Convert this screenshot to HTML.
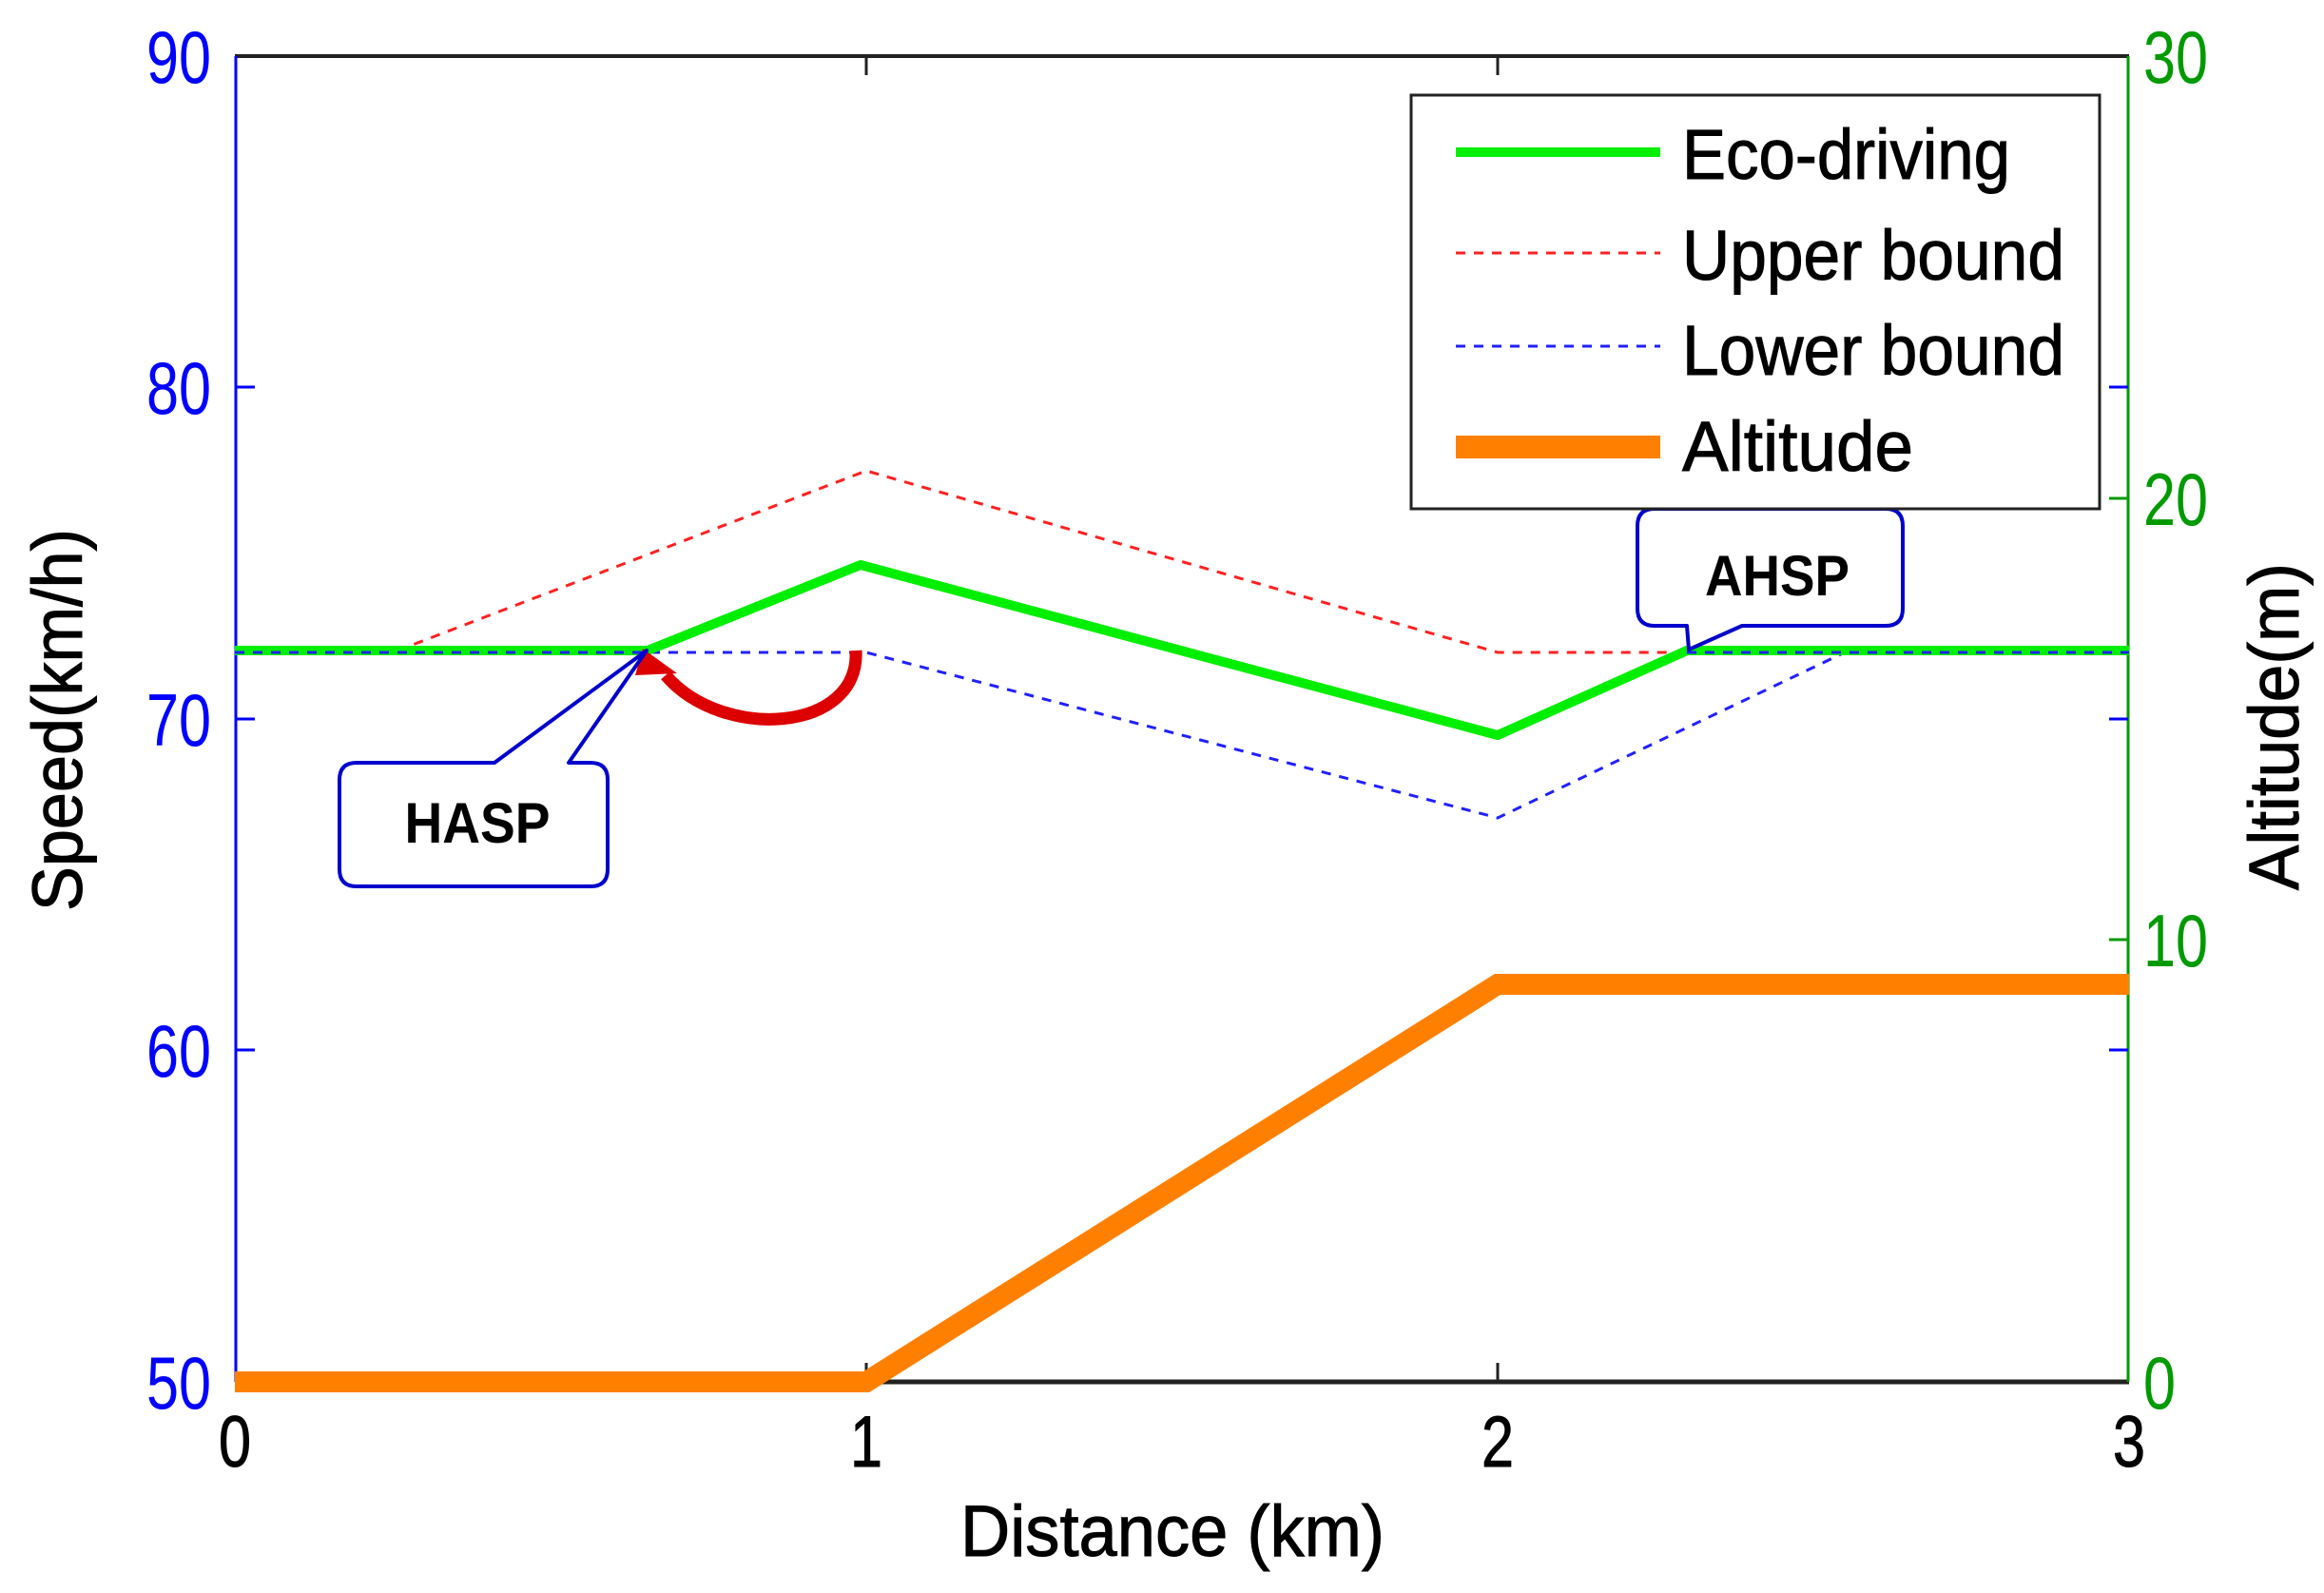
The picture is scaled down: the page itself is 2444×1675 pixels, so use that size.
<!DOCTYPE html>
<html><head><meta charset="utf-8"><style>html,body{margin:0;padding:0;background:#fff}svg{display:block}</style></head>
<body>
<svg width="2444" height="1675" viewBox="0 0 2444 1675" xmlns="http://www.w3.org/2000/svg" font-family="Liberation Sans, Arial, sans-serif">
<rect width="2444" height="1675" fill="#fff"/>
<line x1="247" y1="59" x2="2239" y2="59" stroke="#222" stroke-width="4"/>
<line x1="247" y1="1453" x2="2239" y2="1453" stroke="#222" stroke-width="5"/>
<line x1="248" y1="59" x2="248" y2="1453" stroke="#0000ff" stroke-width="3"/>
<line x1="2238" y1="59" x2="2238" y2="1453" stroke="#009a00" stroke-width="3"/>
<g stroke="#222" stroke-width="3">
<line x1="911" y1="59" x2="911" y2="79"/><line x1="1575" y1="59" x2="1575" y2="79"/>
<line x1="911" y1="1453" x2="911" y2="1433"/><line x1="1575" y1="1453" x2="1575" y2="1433"/>
</g>
<g stroke="#0000ff" stroke-width="3">
<line x1="248" y1="407" x2="268" y2="407"/><line x1="248" y1="756" x2="268" y2="756"/><line x1="248" y1="1104" x2="268" y2="1104"/>
<line x1="2238" y1="407" x2="2218" y2="407"/><line x1="2238" y1="756" x2="2218" y2="756"/><line x1="2238" y1="1104" x2="2218" y2="1104"/>
</g>
<g stroke="#009a00" stroke-width="3">
<line x1="2238" y1="524" x2="2218" y2="524"/><line x1="2238" y1="988" x2="2218" y2="988"/>
</g>
<g font-size="78" fill="#0000ff" text-anchor="end">
<text x="222" y="87" textLength="68" lengthAdjust="spacingAndGlyphs">90</text>
<text x="222" y="435" textLength="68" lengthAdjust="spacingAndGlyphs">80</text>
<text x="222" y="784" textLength="68" lengthAdjust="spacingAndGlyphs">70</text>
<text x="222" y="1132" textLength="68" lengthAdjust="spacingAndGlyphs">60</text>
<text x="222" y="1481" textLength="68" lengthAdjust="spacingAndGlyphs">50</text>
</g>
<g font-size="78" fill="#009a00">
<text x="2254" y="87" textLength="68" lengthAdjust="spacingAndGlyphs">30</text>
<text x="2254" y="552" textLength="68" lengthAdjust="spacingAndGlyphs">20</text>
<text x="2254" y="1016" textLength="68" lengthAdjust="spacingAndGlyphs">10</text>
<text x="2254" y="1481" textLength="34" lengthAdjust="spacingAndGlyphs">0</text>
</g>
<g font-size="76" fill="#000" text-anchor="middle" stroke="#000" stroke-width="1">
<text x="247" y="1542" textLength="34" lengthAdjust="spacingAndGlyphs">0</text><text x="911" y="1542" textLength="34" lengthAdjust="spacingAndGlyphs">1</text><text x="1575" y="1542" textLength="34" lengthAdjust="spacingAndGlyphs">2</text><text x="2239" y="1542" textLength="34" lengthAdjust="spacingAndGlyphs">3</text>
<text x="1233" y="1636" textLength="446" lengthAdjust="spacingAndGlyphs">Distance (km)</text>
</g>
<text transform="translate(86,757) rotate(-90)" font-size="74" text-anchor="middle" textLength="402" lengthAdjust="spacingAndGlyphs" stroke="#000" stroke-width="1">Speed(km/h)</text>
<text transform="translate(2417,764) rotate(-90)" font-size="74" text-anchor="middle" textLength="344" lengthAdjust="spacingAndGlyphs" stroke="#000" stroke-width="1">Altitude(m)</text>
<polyline points="247,1453 911,1453 1575,1035 2239,1035" fill="none" stroke="#ff8000" stroke-width="22" stroke-linejoin="miter"/>
<polyline points="247,686 413,686 911,495 1575,686 2239,686" fill="none" stroke="#ff2020" stroke-width="3" stroke-dasharray="10,9"/>
<polyline points="247,686 911,686 1575,860 1940,686 2239,686" fill="none" stroke="#2020ff" stroke-width="3" stroke-dasharray="10,9"/>
<polyline points="247,684 681,684 905,594 1575,773 1774,684 2239,684" fill="none" stroke="#00ee00" stroke-width="10" stroke-linejoin="round"/>
<polyline points="247,686 681,686" fill="none" stroke="#2020ff" stroke-width="3" stroke-dasharray="10,9"/>
<line x1="1774" y1="686" x2="2239" y2="686" stroke="#2020ff" stroke-width="3" stroke-dasharray="10,9"/>
<path d="M900,684 C905,770 760,780 700,710" fill="none" stroke="#dd0000" stroke-width="13"/>
<polygon points="676,682 668,710 712,708" fill="#dd0000"/>
<path d="M375,802 L520,802 L680,684 L598,802 L621,802 Q639,802 639,820 L639,914 Q639,932 621,932 L375,932 Q357,932 357,914 L357,820 Q357,802 375,802 Z" fill="#fff" stroke="#0000cc" stroke-width="4" stroke-linejoin="round"/>
<text x="502" y="886" font-size="60" font-weight="bold" text-anchor="middle" textLength="153" lengthAdjust="spacingAndGlyphs">HASP</text>
<path d="M1740,535 L1983,535 Q2001,535 2001,553 L2001,640 Q2001,658 1983,658 L1832,658 L1776,683 L1774,658 L1740,658 Q1722,658 1722,640 L1722,553 Q1722,535 1740,535 Z" fill="#fff" stroke="#0000cc" stroke-width="4" stroke-linejoin="round"/>
<text x="1869" y="626" font-size="60" font-weight="bold" text-anchor="middle" textLength="152" lengthAdjust="spacingAndGlyphs">AHSP</text>
<rect x="1484" y="100" width="724" height="435" fill="#fff" stroke="#222" stroke-width="3"/>
<line x1="1531" y1="160" x2="1746" y2="160" stroke="#00ee00" stroke-width="10"/>
<line x1="1531" y1="266" x2="1746" y2="266" stroke="#ff2020" stroke-width="3" stroke-dasharray="10,9"/>
<line x1="1531" y1="364" x2="1746" y2="364" stroke="#2020ff" stroke-width="3" stroke-dasharray="10,9"/>
<line x1="1531" y1="470" x2="1746" y2="470" stroke="#ff8000" stroke-width="24"/>
<g font-size="74" fill="#000" stroke="#000" stroke-width="1">
<text x="1769" y="188" textLength="345" lengthAdjust="spacingAndGlyphs">Eco-driving</text>
<text x="1769" y="294" textLength="402" lengthAdjust="spacingAndGlyphs">Upper bound</text>
<text x="1769" y="394" textLength="402" lengthAdjust="spacingAndGlyphs">Lower bound</text>
<text x="1769" y="495" textLength="243" lengthAdjust="spacingAndGlyphs">Altitude</text>
</g>
</svg>
</body></html>
